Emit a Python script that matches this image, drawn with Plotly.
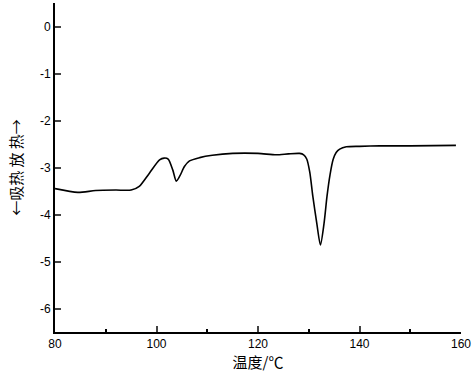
import plotly.graph_objects as go

temperature = [80, 84.5, 88, 92, 95, 96.6, 98.6, 100.6, 101.5, 102.3, 103.2, 103.9, 104.6, 105.5,
               106.5, 108.5, 111, 115, 120, 123.6, 126, 128.2, 129.0, 129.6, 130.2, 130.8, 131.6,
               132.3, 133.0, 133.6, 134.2, 134.8, 135.4, 136.1, 137.4, 140, 144, 150, 159]
heat_flow = [-3.45, -3.53, -3.49, -3.48, -3.48, -3.40, -3.12, -2.84, -2.80, -2.82, -3.05, -3.29,
             -3.18, -2.98, -2.86, -2.79, -2.74, -2.70, -2.70, -2.73, -2.71, -2.70, -2.73, -2.82,
             -3.10, -3.61, -4.20, -4.65, -4.20, -3.61, -3.15, -2.83, -2.68, -2.61, -2.56, -2.55,
             -2.54, -2.54, -2.53]

x_ticks = [80, 100, 120, 140, 160]
y_ticks = [0, -1, -2, -3, -4, -5, -6]

fig = go.Figure(go.Scatter(x=temperature, y=heat_flow, mode="lines",
                           line=dict(color="black", width=1.6, shape="spline", smoothing=0.7),
                           showlegend=False))

fig.update_layout(
    width=474, height=379,
    margin=dict(l=55, r=13, t=3, b=47),
    plot_bgcolor="white", paper_bgcolor="white",
    font=dict(family="Liberation Sans", size=12, color="black"),
)
fig.update_xaxes(range=[80, 160], tickvals=x_ticks, ticks="inside", ticklen=6, tickwidth=2,
                 showline=True, linewidth=2, linecolor="black", showgrid=False, zeroline=False,
                 minor=dict(ticks="inside", dtick=10, ticklen=3, tickwidth=1.5, tickcolor="black"),
                 title=dict(text="温度/℃", font=dict(family="Noto Sans CJK SC", size=15), standoff=6))
fig.update_yaxes(range=[-6.5, 0.5], tickvals=y_ticks, ticktext=[str(v) for v in y_ticks],
                 ticks="inside", ticklen=6, tickwidth=2,
                 showline=True, linewidth=2, linecolor="black", showgrid=False, zeroline=False,
                 title=dict(text="←吸热 放 热→", font=dict(family="Noto Sans CJK SC", size=15), standoff=14))

fig.write_html("out.html")
